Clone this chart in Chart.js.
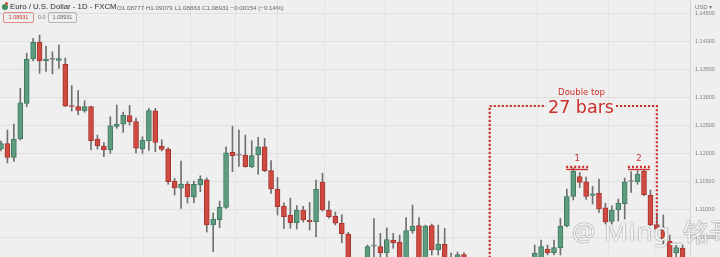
<!DOCTYPE html>
<html>
<head>
<meta charset="utf-8">
<script src="https://cdn.jsdelivr.net/npm/chart.js@4.4.1/dist/chart.umd.min.js"></script>
<style>
  body { margin: 0; background: #efefef; }
  #wrap { position: relative; width: 720px; height: 257px; overflow: hidden; background: #efefef; font-family: "Liberation Sans", Arial, sans-serif; }
  #wrap canvas { position: absolute; left: 0; top: 0; }
  .hd { position: absolute; white-space: nowrap; }
  .ann { position: absolute; white-space: nowrap; color: #c9302c; font-family: "DejaVu Sans", sans-serif; transform: translate(-50%, -50%); }
</style>
</head>
<body>
<div id="wrap">
  <canvas id="myChart"></canvas>
  <div class="hd" style="left:2px;top:4px;width:6px;height:6px;border-radius:50%;background:#3f8f5c;"></div>
  <div class="hd" style="left:5px;top:2px;width:3px;height:3px;border-radius:50%;background:#d0453c;"></div>
  <div class="hd" style="left:10px;top:2px;font-size:7.8px;color:#2a2e39;">Euro / U.S. Dollar - 1D - FXCM</div>
  <div class="hd" style="left:117px;top:3.5px;font-size:6.2px;color:#666;">O1.08777 H1.09079 L1.08863 C1.08931 −0.00154 (−0.14%)</div>
  <div class="hd" style="left:3px;top:12px;width:29px;height:9px;border:1px solid #e08a85;border-radius:2px;font-size:5.5px;color:#d0453c;text-align:center;line-height:9px;">1.08931</div>
  <div class="hd" style="left:38px;top:14px;font-size:5.5px;color:#777;">0.0</div>
  <div class="hd" style="left:48px;top:12px;width:27px;height:9px;border:1px solid #b5b5b5;border-radius:2px;font-size:5.5px;color:#666;text-align:center;line-height:9px;">1.08931</div>
  <div class="hd" style="left:695px;top:3px;font-size:6px;color:#777;">USD ▾</div>
  <div class="ann" id="lblDouble" style="font-size:8.5px;">Double top</div>
  <div class="ann" id="lblBars" style="font-size:17.5px;">27 bars</div>
  <div class="ann" id="lblTop1" style="font-size:8.5px;">1</div>
  <div class="ann" id="lblTop2" style="font-size:8.5px;">2</div>
  <div class="hd" style="left:572px;top:213px;font-size:26px;font-family:'Noto Sans',sans-serif;color:rgba(255,255,255,0.92);letter-spacing:1px;text-shadow:0 0 1px #777,0 0 1px #777;">@ Ming_铭哥</div>
</div>
<script>
// daily candles (first bar = left edge)
const opens = [1.12080,1.12179,1.11929,1.12259,1.12896,1.13688,1.13986,1.13652,1.13688,1.13661,
  1.13593,1.12857,1.12836,1.12764,1.12836,1.12259,1.12134,1.12063,1.12482,1.12523,
  1.12675,1.12571,1.12084,1.12223,1.12764,1.12134,1.12080,1.11509,1.11379,1.11455,
  1.11218,1.11438,1.11532,1.10723,1.10818,1.11036,1.12021,1.11973,1.11973,1.11764,
  1.11973,1.12121,1.11696,1.11366,1.11063,1.10902,1.10764,1.10991,1.10813,1.10782,
  1.11491,1.10991,1.10884,1.10754,1.10563,1.10063,1.09884,1.10027,1.10345,1.10336,
  1.10223,1.10455,1.10420,1.10116,1.10621,1.10711,1.10080,1.10711,1.10277,1.10384,
  1.10098,1.10063,1.10196,1.10063,1.09830,1.09652,1.09813,1.09670,1.09848,1.09955,
  1.09777,1.09955,1.10045,1.10009,1.10134,1.10295,1.10223,1.10313,1.10705,1.11232,
  1.11586,1.11496,1.11250,1.11289,1.11032,1.10786,1.10991,1.11104,1.11500,1.11491,
  1.11688,1.11259,1.10729,1.10643,1.10438,1.10223,1.10313];
const highs = [1.12223,1.12420,1.12527,1.13164,1.13789,1.14057,1.14116,1.13920,1.13818,1.13938,
  1.13705,1.13211,1.13125,1.12941,1.12848,1.12330,1.12196,1.12657,1.12866,1.12741,
  1.12857,1.12634,1.12300,1.12807,1.12807,1.12246,1.12104,1.11554,1.11866,1.11496,
  1.11509,1.11602,1.11563,1.10938,1.11152,1.12121,1.12486,1.12420,1.12330,1.12229,
  1.12289,1.12271,1.11875,1.11571,1.11121,1.11205,1.11071,1.11057,1.11125,1.11527,
  1.11646,1.11152,1.10955,1.10907,1.10593,1.10134,1.10063,1.10366,1.10839,1.10575,
  1.10670,1.10575,1.10545,1.10854,1.11080,1.10854,1.10723,1.10741,1.10723,1.10664,
  1.10223,1.10241,1.10232,1.10134,1.09920,1.09884,1.09955,1.09920,1.10027,1.10063,
  1.09991,1.10098,1.10116,1.10366,1.10455,1.10366,1.10455,1.10843,1.11366,1.11741,
  1.11661,1.11580,1.11414,1.11545,1.11111,1.11066,1.11188,1.11563,1.11675,1.11696,
  1.11714,1.11348,1.10938,1.10902,1.10545,1.10402,1.10366];
const lows = [1.12045,1.11830,1.11857,1.12241,1.12836,1.13652,1.13432,1.13464,1.13420,1.13518,
  1.12839,1.12759,1.12688,1.12736,1.12063,1.12077,1.11943,1.12004,1.12450,1.12375,
  1.12509,1.12009,1.12004,1.12057,1.12032,1.12045,1.11450,1.11259,1.11021,1.11116,
  1.11116,1.11318,1.10598,1.10246,1.10675,1.11021,1.11675,1.11768,1.11755,1.11746,
  1.11629,1.11675,1.11289,1.10902,1.10664,1.10664,1.10652,1.10777,1.10634,1.10514,
  1.10973,1.10843,1.10723,1.10405,1.09920,1.09777,1.09813,1.09955,1.10098,1.10157,
  1.10134,1.10307,1.10009,1.10063,1.10575,1.09991,1.10027,1.10188,1.10188,1.09955,
  1.09884,1.09991,1.09955,1.09741,1.09563,1.09527,1.09598,1.09563,1.09741,1.09705,
  1.09670,1.09884,1.09848,1.09955,1.10063,1.10188,1.10188,1.10188,1.10688,1.11170,
  1.11393,1.11182,1.11098,1.10946,1.10741,1.10741,1.10795,1.10830,1.11304,1.11450,
  1.11246,1.10711,1.10643,1.10357,1.10009,1.10116,1.10009];
const closes = [1.12179,1.11929,1.12259,1.12907,1.13682,1.13986,1.13652,1.13688,1.13682,1.13696,
  1.12843,1.12839,1.12768,1.12836,1.12227,1.12138,1.12066,1.12496,1.12527,1.12688,
  1.12568,1.12093,1.12236,1.12768,1.12196,1.12075,1.11496,1.11384,1.11455,1.11229,
  1.11450,1.11539,1.10723,1.10827,1.11039,1.12014,1.11961,1.11968,1.11764,1.11961,
  1.12121,1.11693,1.11366,1.11050,1.10871,1.10764,1.10991,1.10813,1.10780,1.11361,
  1.10991,1.10871,1.10754,1.10563,1.10063,1.09884,1.10027,1.10336,1.10352,1.10223,
  1.10464,1.10402,1.10098,1.10625,1.10705,1.10063,1.10705,1.10277,1.10384,1.10063,
  1.09973,1.10196,1.10063,1.09830,1.09652,1.09813,1.09670,1.09848,1.09955,1.09777,
  1.09955,1.10045,1.09955,1.10223,1.10336,1.10223,1.10321,1.10705,1.11232,1.11684,
  1.11482,1.11232,1.11280,1.11009,1.10777,1.10991,1.11111,1.11496,1.11504,1.11634,
  1.11264,1.10723,1.10648,1.10477,1.10134,1.10321,1.10098];

// price axis labels and the faint vertical grid (in bar numbers)
const priceTicks = [1.105, 1.11, 1.115, 1.12, 1.125, 1.13, 1.135, 1.14, 1.145];
const timeGrid = [25.8, 33.0, 40.0, 46.0, 54.7, 64.9, 76.0, 91.0, 98.1];

// double top markup: box over 27 bars, two tops
const boxFrom = 76, boxTo = 102, boxTop = 1.12848, boxRightEnd = 1.10741;
const topMarks = [
  { id: "lblTop1", from: 87.9, to: 91.3, price: 1.11732 },
  { id: "lblTop2", from: 97.5, to: 100.9, price: 1.11732 },
];

const bodies = opens.map((o, i) => ({ x: i, y: [o, closes[i]] }));
const wicks = lows.map((l, i) => ({ x: i, y: [l, highs[i]] }));

function candleColor(i, up, down, flat) {
  let d = closes[i] - opens[i];
  if (Math.abs(d) < 0.00008) return flat;
  return d > 0 ? up : down;
}

const red = "#c9302c";

const markup = {
  id: "markup",
  afterDatasetsDraw(chart) {
    let c = chart.ctx;
    let x = chart.scales.x;
    let y = chart.scales.y;
    let xl = x.getPixelForValue(boxFrom);
    let xr = x.getPixelForValue(boxTo);
    let yt = y.getPixelForValue(boxTop);
    let yb = y.getPixelForValue(boxRightEnd);
    let mid = x.getPixelForValue(90.2);

    let bars = document.getElementById("lblBars");
    let half = bars.offsetWidth / 2 + 2;
    bars.style.left = mid + "px";
    bars.style.top = yt + 1 + "px";
    let dbl = document.getElementById("lblDouble");
    dbl.style.left = mid + 0.5 + "px";
    dbl.style.top = yt - 14 + "px";

    c.save();
    c.strokeStyle = red;
    c.lineWidth = 2.2;
    c.setLineDash([2.2, 1.8]);
    c.beginPath();
    c.moveTo(xl, chart.chartArea.bottom + 5);
    c.lineTo(xl, yt);
    c.lineTo(mid - half, yt);
    c.moveTo(mid + half, yt);
    c.lineTo(xr, yt);
    c.lineTo(xr, yb);
    c.stroke();

    for (let m of topMarks) {
      let a = x.getPixelForValue(m.from);
      let b = x.getPixelForValue(m.to);
      let py = y.getPixelForValue(m.price);
      c.setLineDash([2, 2]);
      c.lineWidth = 2.5;
      c.beginPath();
      c.moveTo(a, py - 1.5);
      c.lineTo(b, py - 1.5);
      c.stroke();
      c.setLineDash([]);
      c.lineWidth = 1.3;
      c.beginPath();
      c.moveTo(a, py + 1);
      c.lineTo(b, py + 1);
      c.stroke();
      let lbl = document.getElementById(m.id);
      lbl.style.left = (a + b) / 2 + "px";
      lbl.style.top = py - 11 + "px";
    }
    c.restore();
  },
};

const ctx = document.getElementById("myChart");
const pxPerUnit = 5600;
const yMax = 1.145 + 13.5 / pxPerUnit;
const yMin = yMax - 257 / pxPerUnit;
const xMin = -1 / 6.43;
const xMax = xMin + 690 / 6.43;

new Chart(ctx, {
  type: "bar",
  data: {
    datasets: [
      {
        label: "body",
        data: bodies,
        grouped: false,
        barThickness: 5,
        minBarLength: 1,
        borderWidth: 1,
        borderSkipped: false,
        backgroundColor: (c) => candleColor(c.dataIndex, "#5d9c7f", "#cf4a40", "#8a8a8a"),
        borderColor: (c) => candleColor(c.dataIndex, "#3f7a5f", "#a8342e", "#777777"),
      },
      {
        label: "wick",
        data: wicks,
        grouped: false,
        barThickness: 1,
        borderWidth: 0,
        backgroundColor: "#707070",
      },
    ],
  },
  options: {
    animation: false,
    responsive: true,
    maintainAspectRatio: false,
    layout: { padding: 0 },
    plugins: { legend: { display: false }, tooltip: { enabled: false } },
    scales: {
      x: {
        type: "linear",
        min: xMin,
        max: xMax,
        offset: false,
        grid: { color: "#e3e3e3", drawTicks: false },
        border: { display: false },
        ticks: { display: false },
        afterBuildTicks: (s) => { s.ticks = timeGrid.map((v) => ({ value: v })); },
        afterFit: (s) => { s.height = 0; s.paddingLeft = 0; s.paddingRight = 0; s.paddingTop = 0; s.paddingBottom = 0; },
      },
      y: {
        position: "right",
        min: yMin,
        max: yMax,
        grid: { color: "#dfdfdf", drawTicks: false },
        border: { display: true, color: "#d6d6d6" },
        ticks: {
          padding: 5,
          color: "#808080",
          font: { family: "Liberation Sans", size: 5.5 },
          callback: (v) => v.toFixed(5),
        },
        afterBuildTicks: (s) => { s.ticks = priceTicks.map((v) => ({ value: v })); },
        afterFit: (s) => { s.width = 30; s.paddingTop = 0; s.paddingBottom = 0; s.paddingLeft = 0; s.paddingRight = 0; },
      },
    },
  },
  plugins: [markup],
});
</script>
</body>
</html>
